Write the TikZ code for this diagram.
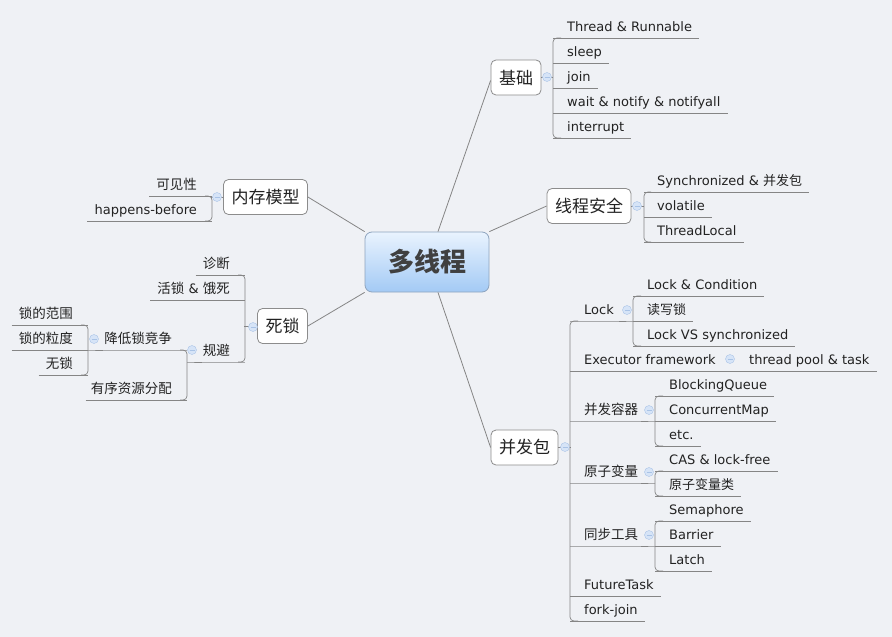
\documentclass[tikz,border=0pt]{standalone}
\usepackage{fontspec}
\setmainfont{DejaVu Sans}
\newfontfamily\cjk{Noto Sans CJK SC}
\usetikzlibrary{positioning}
\definecolor{mapBg}{HTML}{EFF1F5}
\definecolor{mapLine}{HTML}{858585}
\definecolor{mapBox}{HTML}{8C8C8C}
\definecolor{mapText}{HTML}{222222}
\definecolor{mapTop}{HTML}{E9F3FE}
\definecolor{mapBottom}{HTML}{A3CAF5}
\definecolor{mapRoot}{HTML}{8EA4BE}
\definecolor{mapDot}{HTML}{D6E4F7}
\definecolor{mapDotRim}{HTML}{A9C3E6}

\tikzset{
  root/.style={draw=mapRoot, line width=0.8pt, rounded corners=7pt,
    top color=mapTop, bottom color=mapBottom,
    minimum width=124pt, minimum height=60pt,
    font=\cjk\bfseries\fontsize{26}{30}\selectfont, text=black!75},
  topic/.style={draw=mapBox, line width=0.8pt, fill=white, rounded corners=5pt,
    minimum height=35pt, inner xsep=8pt, text=mapText,
    font=\cjk\fontsize{17}{20}\selectfont},
  leaf/.style={inner sep=0pt, anchor=base west, text=mapText,
    font=\fontsize{13}{15}\selectfont},
  leafl/.style={leaf, anchor=base east},
  cjkleaf/.style={font=\cjk\fontsize{13.5}{15}\selectfont},
  uline/.style={draw=mapLine, line width=0.7pt},
  bracket/.style={uline, rounded corners=4pt},
  branch/.style={draw=mapLine, line width=0.8pt},
  fold/.style={circle, draw=mapDotRim, fill=mapDot, minimum size=9pt, inner sep=0pt,
    path picture={\draw[mapDotRim, line width=0.8pt]
      ([xshift=-2.5pt]path picture bounding box.center) --
      ([xshift=2.5pt]path picture bounding box.center);}}
}

\begin{document}
\begin{tikzpicture}[x=1pt, y=-1pt]
  \fill[mapBg] (0,0) rectangle (892,637);
  \useasboundingbox (0,0) rectangle (892,637);

  % centre and main topics
  \node[root] (main) at (427,262) {多线程};
  \node[topic] (jichu) at (516,77.5) {基础};
  \node[topic] (xianan) at (589,206) {线程安全};
  \node[topic] (bfb) at (524.5,447.5) {并发包};
  \node[topic] (neicun) at (265.5,197) {内存模型};
  \node[topic] (sisuo) at (282.5,326) {死锁};

  \draw[branch] ([xshift=11pt]main.north) -- ([yshift=-3pt]jichu.west);
  \draw[branch] (main.north east) -- (xianan.west);
  \draw[branch] ([xshift=11pt]main.south) -- (bfb.west);
  \draw[branch] (neicun.east) -- (main.north west);
  \draw[branch] (sisuo.east) -- (main.south west);

  % 基础
  \foreach \t [count=\i] in {Thread \& Runnable, sleep, join, wait \& notify \& notifyall, interrupt}
    \node[leaf] (jc\i) at (567,6.5+25*\i) {\t};
  \foreach \i in {1,...,5}
    \draw[uline] ([shift={(-14pt,-6.5pt)}]jc\i.base west) -- ([shift={(7pt,-6.5pt)}]jc\i.base east);
  \draw[bracket] ([shift={(-6pt,-6.5pt)}]jc1.base west) -- ([shift={(-14pt,-6.5pt)}]jc1.base west)
    -- ([shift={(-14pt,-6.5pt)}]jc5.base west) -- ([shift={(-6pt,-6.5pt)}]jc5.base west);
  \draw[uline] (jichu.east) -- ([xshift=12pt]jichu.east);
  \node[fold] (jcf) at (547,77) {};

  % 线程安全
  \foreach \t [count=\i] in {Synchronized \& {\cjk 并发包}, volatile, ThreadLocal}
    \node[leaf] (xa\i) at (657,160.5+25*\i) {\t};
  \foreach \i in {1,...,3}
    \draw[uline] ([shift={(-13pt,-6.5pt)}]xa\i.base west) -- ([shift={(7pt,-6.5pt)}]xa\i.base east);
  \draw[bracket] ([shift={(-6pt,-6.5pt)}]xa1.base west) -- ([shift={(-13pt,-6.5pt)}]xa1.base west)
    -- ([shift={(-13pt,-6.5pt)}]xa3.base west) -- ([shift={(-6pt,-6.5pt)}]xa3.base west);
  \draw[uline] (xianan.east) -- ([xshift=13pt]xianan.east);
  \node[fold] (xaf) at (637,206) {};

  % 并发包
  \node[leaf] (lock) at (584,314.5) {Lock};
  \node[leaf] (exec) at (584,364.5) {Executor framework};
  \node[leaf, cjkleaf] (rongqi) at (584,414.5) {并发容器};
  \node[leaf, cjkleaf] (yuanzi) at (584,476.5) {原子变量};
  \node[leaf, cjkleaf] (tongbu) at (584,539.5) {同步工具};
  \node[leaf] (ftask) at (584,589.5) {FutureTask};
  \node[leaf] (fjoin) at (584,614.5) {fork-join};

  \foreach \t [count=\i] in {Lock \& Condition, {\cjk 读写锁}, Lock VS synchronized}
    \node[leaf] (lk\i) at (647,264.5+25*\i) {\t};
  \node[leaf] (pool) at (749,364.5) {thread pool \& task};
  \foreach \t [count=\i] in {BlockingQueue, ConcurrentMap, etc.}
    \node[leaf] (rq\i) at (669,364.5+25*\i) {\t};
  \foreach \t [count=\i] in {CAS \& lock-free, {\cjk 原子变量类}}
    \node[leaf] (yz\i) at (669,439.5+25*\i) {\t};
  \foreach \t [count=\i] in {Semaphore, Barrier, Latch}
    \node[leaf] (tb\i) at (669,489.5+25*\i) {\t};

  \foreach \n/\m in {lock/lk1, rongqi/rq1, yuanzi/yz1, tongbu/tb1}
    \draw[uline] ([shift={(-14pt,-6.5pt)}]\n.base west) -- ([shift={(-14pt,-6.5pt)}]\n.base west -| \m.base west)
      -- ++(-14pt,0);
  \foreach \n/\m in {exec/pool, ftask/ftask, fjoin/fjoin}
    \draw[uline] ([shift={(-14pt,-6.5pt)}]\n.base west) -- ([shift={(7pt,-6.5pt)}]\m.base east);
  \foreach \n in {lk1,lk2,lk3,rq1,rq2,rq3,yz1,yz2,tb1,tb2,tb3}
    \draw[uline] ([shift={(-14pt,-6.5pt)}]\n.base west) -- ([shift={(7pt,-6.5pt)}]\n.base east);
  \foreach \a/\b in {lk1/lk3, rq1/rq3, yz1/yz2, tb1/tb3, lock/fjoin}
    \draw[bracket] ([shift={(-6pt,-6.5pt)}]\a.base west) -- ([shift={(-14pt,-6.5pt)}]\a.base west)
      -- ([shift={(-14pt,-6.5pt)}]\b.base west) -- ([shift={(-6pt,-6.5pt)}]\b.base west);
  \draw[uline] (bfb.east) -- ([xshift=13pt]bfb.east);
  \node[fold] (bff) at (565,447) {};
  \node[fold] (lkf) at (627,310) {};
  \node[fold] (exf) at (730,359) {};
  \node[fold] (rqf) at (649,410) {};
  \node[fold] (yzf) at (649,472) {};
  \node[fold] (tbf) at (649,535) {};

  % 内存模型
  \node[leafl, cjkleaf] (nc1) at (197,189.5) {可见性};
  \node[leafl] (nc2) at (197,214.5) {happens-before};
  \foreach \i in {1,2}
    \draw[uline] ([shift={(-7pt,-6.5pt)}]nc\i.base west) -- ([shift={(15pt,-6.5pt)}]nc\i.base east);
  \draw[bracket] ([shift={(8pt,-6.5pt)}]nc1.base east) -- ([shift={(15pt,-6.5pt)}]nc1.base east)
    -- ([shift={(15pt,-6.5pt)}]nc2.base east) -- ([shift={(8pt,-6.5pt)}]nc2.base east);
  \draw[uline] (neicun.west) -- ([xshift=-12pt]neicun.west);
  \node[fold] (ncf) at (217,197) {};

  % 死锁
  \node[leafl, cjkleaf] (sl1) at (230,268.5) {诊断};
  \node[leafl] (sl2) at (230,293.5) {{\cjk\fontsize{13.5}{15}\selectfont 活锁} \& {\cjk\fontsize{13.5}{15}\selectfont 饿死}};
  \node[leafl, cjkleaf] (guibi) at (230,355.5) {规避};
  \node[leafl, cjkleaf] (jiangdi) at (172,343.5) {降低锁竞争};
  \node[leafl, cjkleaf] (youxu) at (172,393.5) {有序资源分配};
  \foreach \t [count=\i] in {锁的范围, 锁的粒度, 无锁}
    \node[leafl, cjkleaf] (jd\i) at (73,293.5+25*\i) {\t};

  \foreach \n in {sl1, sl2, jd1, jd2, jd3}
    \draw[uline] ([shift={(-7pt,-6.5pt)}]\n.base west) -- ([shift={(15pt,-6.5pt)}]\n.base east);
  \draw[uline] ([shift={(-5pt,-6.5pt)}]youxu.base west) -- ([shift={(15pt,-6.5pt)}]youxu.base east);
  \draw[uline] ([shift={(15pt,-6.5pt)}]guibi.base east) -- ([shift={(15pt,-6.5pt)}]guibi.base east -| jiangdi.base east)
    -- ++(15pt,0);
  \draw[uline] ([shift={(15pt,-6.5pt)}]jiangdi.base east) -- ([shift={(15pt,-6.5pt)}]jiangdi.base east -| jd1.base east)
    -- ++(15pt,0);
  \foreach \a/\b in {sl1/guibi, jiangdi/youxu, jd1/jd3}
    \draw[bracket] ([shift={(8pt,-6.5pt)}]\a.base east) -- ([shift={(15pt,-6.5pt)}]\a.base east)
      -- ([shift={(15pt,-6.5pt)}]\b.base east) -- ([shift={(8pt,-6.5pt)}]\b.base east);
  \draw[uline] (sisuo.west) -- ([xshift=-13pt]sisuo.west);
  \node[fold] (slf) at (253,327) {};
  \node[fold] (gbf) at (192,350) {};
  \node[fold] (jdf) at (94,339) {};
\end{tikzpicture}
\end{document}
